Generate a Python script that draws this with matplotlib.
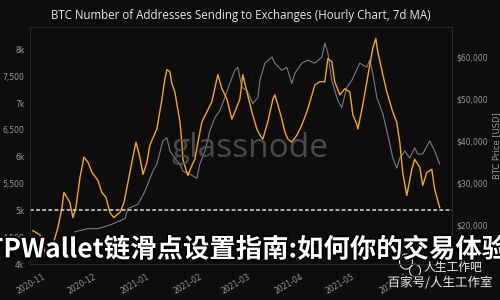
import datetime as dt
import matplotlib
matplotlib.use('Agg')
import matplotlib.pyplot as plt
import matplotlib.dates as mdates
import matplotlib.patheffects as pe
from matplotlib.ticker import FixedLocator, FixedFormatter
from matplotlib.patches import Ellipse

# days counted from 2020-11-01
start = dt.datetime(2020, 11, 1)

addr_days = [-5.3, -1.2, 2.3, 5.8, 9.3, 11.7, 12.8, 14.6, 16.3, 18.1, 19.8, 22.2, 24.5, 26.9,
             29.2, 32.7, 35.0, 37.4, 39.7, 42.0, 43.8, 45.5, 47.9, 50.2, 52.5, 54.9, 57.2, 59.0,
             61.3, 63.0, 67.1, 70.1, 71.8, 73.0, 74.7, 75.9, 77.6, 80.6, 81.7, 82.3, 84.6, 85.2,
             87.6, 89.3, 91.1, 93.4, 96.3, 99.2, 102.2, 102.7, 105.1, 108.0, 110.9, 112.7, 115.6,
             117.3, 119.7, 122.6, 125.5, 127.3, 129.0, 131.9, 134.9, 136.0, 137.8, 140.1, 141.9,
             143.6, 145.9, 148.9, 151.8, 155.3, 159.4, 162.3, 165.2, 167.0, 169.3, 171.0, 174.0,
             176.9, 179.8, 181.6, 183.9, 184.5, 187.4, 191.5, 193.2, 195.0, 196.1, 199.1, 201.4,
             204.9, 207.2, 209.0, 210.7, 213.1, 216.0, 217.7, 220.7, 222.4, 224.8, 227.7, 229.4,
             232.3]
addresses = [4620, 4545, 4170, 4300, 4676, 5052, 5333, 5240, 5146, 4864, 5052, 5615, 5991, 5897,
             5709, 5559, 5333, 5240, 4958, 4864, 4920, 4958, 5146, 5521, 5897, 6272, 5991, 5671,
             5897, 6216, 6517, 7080, 7456, 7625, 7587, 7362, 7211, 6648, 6272, 5953, 5709, 5653,
             5840, 5953, 6272, 6648, 6836, 7024, 7456, 7531, 7268, 7080, 6704, 6836, 7080,
             7531, 7211, 6836, 6517, 6404, 6329, 6648, 7080, 7155, 6967, 6704, 6460,
             6329, 6272, 6404, 6592, 6892, 7343, 7399, 7399, 7831, 7775, 7399, 7155,
             7268, 7211, 6779, 6610, 6517, 6967, 7718, 8019, 8207, 7963, 7531, 7211,
             6836, 6648, 6272, 5709, 5277, 5765, 5953, 5803, 5465, 5709, 5765, 5390,
             5052]

price_days = [19.3, 26.9, 32.7, 40.3, 48.5, 50.2, 56.0, 60.1, 64.8, 67.1, 70.6, 73.0, 74.7, 77.6,
              80.6, 82.3, 86.4, 90.5, 92.2, 95.2, 98.1, 101.0, 103.9, 106.8, 109.7, 112.7, 114.4,
              116.8, 119.7, 123.2, 126.1, 127.3, 130.2, 134.3, 136.0, 140.1, 143.0, 145.9, 147.7,
              151.8, 155.3, 159.4, 163.5, 165.2, 167.0, 169.3, 171.0, 172.8, 175.1, 178.0, 181.0,
              185.6, 189.7, 191.5, 193.2, 195.6, 199.1, 201.4, 203.2, 204.9, 207.2, 209.0, 211.9,
              214.8, 217.7, 219.5, 222.4, 226.5, 229.4, 232.3]
price = [18313, 19036, 19036, 20000, 21446, 23856, 24820, 27953, 32773, 34460, 40003, 40726, 37593,
         35906, 34460, 32773, 32050, 31086, 34460, 37593, 42413, 45546, 47233, 50366, 53740, 56873,
         57596, 52776, 52053, 48920, 50366, 54463, 58560, 60006, 58560, 56873, 57596, 53740, 56150,
         58560, 59283, 58560, 60006, 63380, 60970, 54463, 52053, 49643, 47956, 52776, 54463,
         58560, 57596, 59283, 56150, 50366, 46510, 42413, 39280, 35906, 33496, 35906, 37593,
         35906, 38316, 36870, 36870, 40003, 37593, 34460]

left_ticks = [4000, 4500, 5000, 5500, 6000, 6500, 7000, 7500, 8000]
left_labels = ['4k', '4,500', '5k', '5,500', '6k', '6,500', '7k', '7,500', '8k']
right_ticks = [20000, 30000, 40000, 50000, 60000]
right_labels = ['$20,000', '$30,000', '$40,000', '$50,000', '$60,000']
month_ticks = ['2020-11-01', '2020-12-01', '2021-01-01', '2021-02-01', '2021-03-01',
               '2021-04-01', '2021-05-01', '2021-06-01']

title = 'BTC Number of Addresses Sending to Exchanges (Hourly Chart, 7d MA)'
banner = 'TPWallet链滑点设置指南:如何你的交易体验'

bg = '#0d0d0d'
tick_col = '#9a9a9a'
cjk = ['Noto Sans CJK SC', 'DejaVu Sans']

fig = plt.figure(figsize=(5, 3), dpi=100, facecolor=bg)
ax = fig.add_axes([0.06, 0.12, 0.844, 0.79])
ax.set_facecolor(bg)
ax2 = ax.twinx()

px = [start + dt.timedelta(days=d) for d in price_days]
ax2.plot(px, price, color='#a0a0ae', lw=0.8, alpha=0.75)
ax2.set_ylim(10600, 67200)

ax.set_zorder(ax2.get_zorder() + 1)
ax.patch.set_visible(False)
ax2.patch.set_facecolor(bg)

ax_x = [start + dt.timedelta(days=d) for d in addr_days]
ax.plot(ax_x, addresses, color='#f5a623', lw=1.0)
ax.axhline(5000, color='#dddddd', lw=1.1, ls=(0, (2.5, 1.5)))
ax.set_ylim(4000, 8420)
ax.set_xlim(start + dt.timedelta(days=-7), start + dt.timedelta(days=239.5))

ax.yaxis.set_major_locator(FixedLocator(left_ticks))
ax.yaxis.set_major_formatter(FixedFormatter(left_labels))
ax2.yaxis.set_major_locator(FixedLocator(right_ticks))
ax2.yaxis.set_major_formatter(FixedFormatter(right_labels))
ax.set_xticks([dt.datetime.strptime(m, '%Y-%m-%d') for m in month_ticks])
ax.xaxis.set_major_formatter(mdates.DateFormatter('%Y-%m'))

ax.tick_params(axis='y', length=0, labelsize=5.5, labelcolor=tick_col, pad=4)
ax2.tick_params(axis='y', length=0, labelsize=5.5, labelcolor=tick_col, pad=3)
ax.tick_params(axis='x', length=0, labelsize=5.5, labelcolor=tick_col, pad=6)
for lab in ax.get_xticklabels():
    lab.set_rotation(30)
    lab.set_ha('right')
    lab.set_rotation_mode('anchor')

for a in (ax, ax2):
    for s in a.spines.values():
        s.set_color('#2a2a2a')
        s.set_linewidth(0.6)

ax2.set_ylabel('BTC Price [USD]', color=tick_col, fontsize=6, labelpad=3)

fig.text(0.482, 0.95, title, ha='center', va='center', color='#e8e8e8',
         fontsize=8.3, family='Open Sans')

fig.text(0.5, 0.505, 'glassnode', ha='center', va='center', color='#5a5a5a',
         fontsize=24, family='Open Sans', alpha=0.8)

fig.text(0.495, 0.167, banner, ha='center', va='center', color='white',
         fontsize=19, weight='heavy', family=cjk,
         path_effects=[pe.withStroke(linewidth=2.5, foreground='black')])

# bottom-right watermark
fig.add_artist(Ellipse((0.812, 0.128), 0.026, 0.05, transform=fig.transFigure,
                       fill=False, ec='#dddddd', lw=0.8))
fig.add_artist(Ellipse((0.83, 0.098), 0.022, 0.042, transform=fig.transFigure,
                       fill=False, ec='#dddddd', lw=0.8))
fig.text(0.905, 0.11, '人生工作吧', ha='center', va='center', color='#eeeeee',
         fontsize=8.5, family=cjk)
fig.text(0.88, 0.057, '百家号/人生工作室', ha='center', va='center', color='#eeeeee',
         fontsize=9, family=cjk,
         path_effects=[pe.withStroke(linewidth=2, foreground='#111111')])

fig.savefig('out.png', dpi=100, facecolor=bg)
